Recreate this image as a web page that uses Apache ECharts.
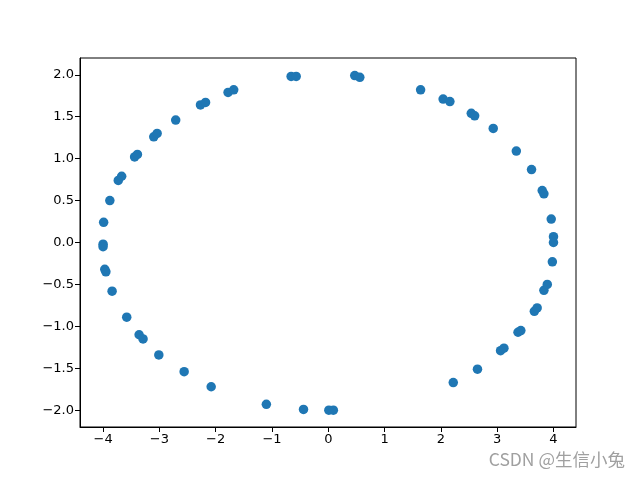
<!DOCTYPE html>
<html>
<head>
<meta charset="utf-8">
<script src="https://cdn.jsdelivr.net/npm/echarts@6/dist/echarts.min.js"></script>
<style>html,body{margin:0;padding:0;background:#fff;}#c{width:640px;height:480px;}</style>
</head>
<body>
<div id="c"></div>
<script>
const xs = [-0.66,-0.57,-1.78,-1.68,-2.27,-2.18,-2.71,-3.10,-3.04,-3.44,-3.39,-3.73,-3.67,-3.88,-3.99,-4.00,-4.00,-3.97,-3.95,-3.84,-3.58,-3.36,-3.29,-3.01,-2.56,-2.08,-1.10,-0.44,0.01,0.09,2.22,2.65,3.06,3.12,3.37,3.42,3.66,3.71,3.83,3.89,3.98,4.00,4.00,3.96,3.80,3.83,3.61,3.34,2.93,2.54,2.60,2.04,2.16,1.64,0.47,0.56];
const ys = [1.98,1.98,1.79,1.82,1.64,1.67,1.46,1.26,1.30,1.02,1.05,0.74,0.79,0.50,0.24,-0.02,-0.05,-0.32,-0.35,-0.58,-0.89,-1.10,-1.15,-1.34,-1.54,-1.72,-1.93,-1.99,-2.00,-2.00,-1.67,-1.51,-1.29,-1.26,-1.07,-1.05,-0.82,-0.78,-0.57,-0.50,-0.23,0.00,0.07,0.28,0.62,0.58,0.87,1.09,1.36,1.54,1.51,1.71,1.68,1.82,1.99,1.97];
const xTicks = [-4,-3,-2,-1,0,1,2,3,4];
const yTicks = [-2.0,-1.5,-1.0,-0.5,0.0,0.5,1.0,1.5,2.0];
const watermark = 'CSDN @生信小兔';

const points = xs.map((x, i) => [x, ys[i]]);
const fmtX = v => { const r = Math.round(v); return r < 0 ? '\u2212' + Math.abs(r) : String(r); };
const fmtY = v => { const s = Math.abs(v).toFixed(1); return v < -1e-9 ? '\u2212' + s : s; };
const font = 'DejaVu Sans';

const chart = echarts.init(document.getElementById('c'), null, {renderer: 'canvas'});
chart.setOption({
  animation: false,
  backgroundColor: '#ffffff',
  grid: {left: 80, right: 64, top: 58, bottom: 53, show: true, borderColor: '#000', borderWidth: 1, backgroundColor: 'transparent'},
  xAxis: {
    type: 'value', min: -4.41, max: 4.40,
    splitLine: {show: false},
    axisLine: {show: true, onZero: false, lineStyle: {color: '#000', width: 1}},
    axisTick: {show: true, inside: false, length: 5, customValues: xTicks, lineStyle: {color: '#000'}},
    axisLabel: {customValues: xTicks, formatter: fmtX, color: '#000', fontFamily: font, fontSize: 13, margin: 6},
  },
  yAxis: {
    type: 'value', min: -2.2, max: 2.2,
    splitLine: {show: false},
    axisLine: {show: true, onZero: false, lineStyle: {color: '#000', width: 1}},
    axisTick: {show: true, inside: false, length: 5, customValues: yTicks, lineStyle: {color: '#000'}},
    axisLabel: {customValues: yTicks, formatter: fmtY, color: '#000', fontFamily: font, fontSize: 13, margin: 6},
  },
  series: [{
    type: 'scatter',
    data: points,
    symbol: 'circle',
    symbolSize: 9.5,
    itemStyle: {color: '#1f77b4', opacity: 1},
  }],
  graphic: [{
    type: 'text', right: 15, top: 451,
    style: {text: watermark, fill: '#a0a0a0', font: '17.5px "Noto Sans CJK SC", "DejaVu Sans", sans-serif'}
  }]
});
</script>
</body>
</html>
